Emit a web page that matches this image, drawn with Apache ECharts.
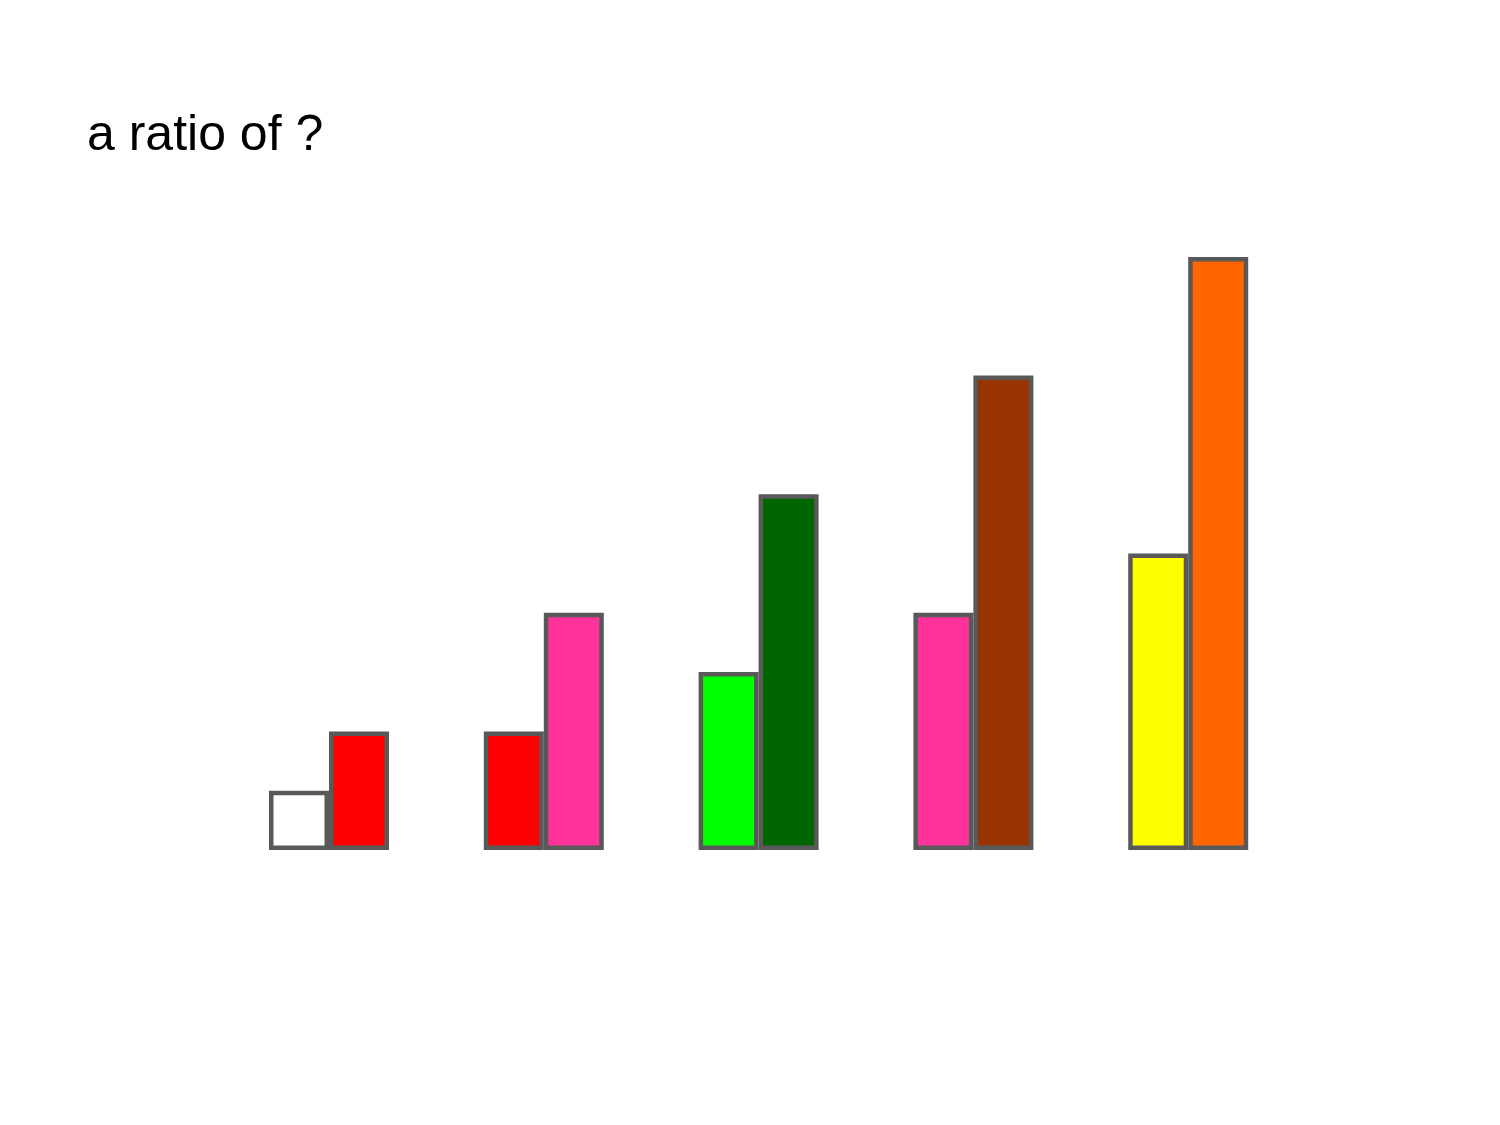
<!DOCTYPE html>
<html>
<head>
<meta charset="utf-8">
<script src="https://cdn.jsdelivr.net/npm/echarts@6/dist/echarts.min.js"></script>
<style>html,body{margin:0;padding:0;background:#fff;}#c{width:1500px;height:1125px;}</style>
</head>
<body>
<div id="c"></div>
<script>
const categories = ['1', '2', '3', '4', '5'];
const leftValues = [1, 2, 3, 4, 5];
const rightValues = [2, 4, 6, 8, 10];
const leftColors = ['#FFFFFF', '#FF0000', '#00FF00', '#FF3399', '#FFFF00'];
const rightColors = ['#FF0000', '#FF3399', '#006600', '#993300', '#FF6600'];
const titleText = 'a ratio of ?';

const chart = echarts.init(document.getElementById('c'));
const mk = (vals, cols) => vals.map((v, i) => ({ value: v, itemStyle: { color: cols[i] } }));
chart.setOption({
  animation: false,
  backgroundColor: '#ffffff',
  title: {
    text: titleText, left: 82, top: 106,
    textStyle: { fontFamily: 'Liberation Sans, Arial', fontSize: 50, fontWeight: 'normal', color: '#000' }
  },
  grid: { left: 221.6, right: 204.4, top: 257, bottom: 275 },
  xAxis: { type: 'category', data: categories, show: false },
  yAxis: { type: 'value', min: 0, max: 10, show: false },
  series: [
    { type: 'bar', data: mk(leftValues, leftColors), barWidth: 60, barGap: 0,
      itemStyle: { borderColor: '#595959', borderWidth: 4.5 } },
    { type: 'bar', data: mk(rightValues, rightColors), barWidth: 60, barGap: 0,
      itemStyle: { borderColor: '#595959', borderWidth: 4.5 } }
  ]
});
</script>
</body>
</html>
